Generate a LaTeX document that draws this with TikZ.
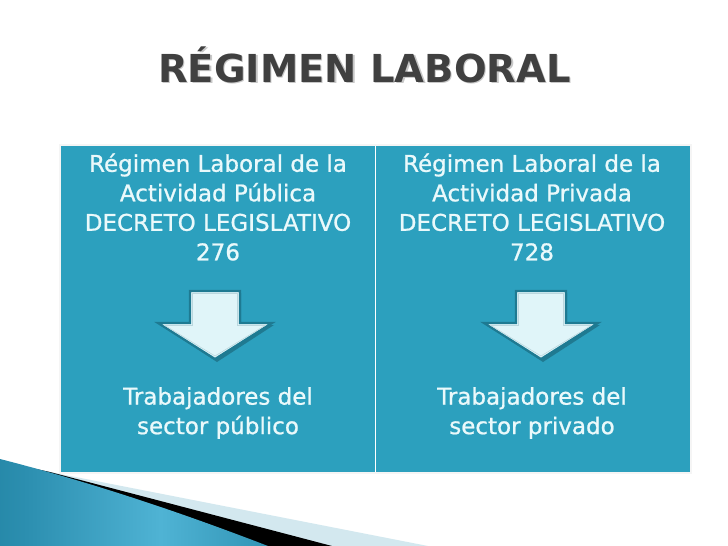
\documentclass[tikz,border=0pt]{standalone}
\usepackage{fontspec}
\setmainfont{DejaVu Sans}
\newfontfamily\cellfont{DejaVu Sans}[BoldFont={DejaVu Sans}, BoldFeatures={FakeBold=0.9}]
\usetikzlibrary{shadings}
\definecolor{cellblue}{HTML}{2CA0BE}
\definecolor{celltext}{HTML}{EAF9FB}
\definecolor{arrowfill}{HTML}{E0F5F9}
\definecolor{arrowedge}{HTML}{1E7A92}
\definecolor{titlegray}{HTML}{404040}
\definecolor{swooshlight}{HTML}{D3E8EF}
\definecolor{swA}{HTML}{0E6E8A}
\definecolor{swB}{HTML}{2C8FB0}
\definecolor{swC}{HTML}{4FB3D4}
\definecolor{swD}{HTML}{2A8DAE}
\definecolor{swE}{HTML}{0F6A86}
\pgfdeclarehorizontalshading{swoosh}{100bp}{
  color(0bp)=(swA); color(30bp)=(swB); color(55bp)=(swC);
  color(80bp)=(swD); color(100bp)=(swE)}
\tikzset{
  celltxt/.style={text=celltext, align=center, font=\cellfont\bfseries\fontsize{23}{29.5}\selectfont},
  dnarrow/.style={fill=arrowfill, draw=arrowedge, line width=2.2pt, line join=miter},
}
\begin{document}
\begin{tikzpicture}[x=1pt,y=-1pt]
\useasboundingbox (0,0) rectangle (728,546);
\fill[white] (0,0) rectangle (728,546);
% title
\node[text=black!22, font=\fontsize{38.5}{40}\bfseries\selectfont, anchor=base] at (365.8,83.3) {RÉGIMEN LABORAL};
\node (title) [text=titlegray, font=\fontsize{38.5}{40}\bfseries\selectfont, anchor=base] at (364.5,82) {RÉGIMEN LABORAL};
% table
\fill[black!4] (59,144) rectangle (692,474);
\node (leftcell) [fill=cellblue, minimum width=314pt, minimum height=326pt, inner sep=0pt, anchor=north west] at (61,146) {};
\node (rightcell) [fill=cellblue, minimum width=315pt, minimum height=326pt, inner sep=0pt, anchor=north west] at (375,146) {};
\draw[white, line width=1pt] (leftcell.north east) -- (leftcell.south east);
\node (lt) [celltxt] at (218,207) {Régimen Laboral de la\\Actividad Pública\\DECRETO LEGISLATIVO\\276};
\node (rt) [celltxt] at (532,207) {Régimen Laboral de la\\Actividad Privada\\DECRETO LEGISLATIVO\\728};
\node (lb) [celltxt] at (218,413) {Trabajadores del\\sector público};
\node (rb) [celltxt] at (532,413) {Trabajadores del\\sector privado};
% arrows
\begin{scope}[shift={(215,0)}]
\fill[arrowedge!70!black, opacity=.5] (-24,293) -- (26,293) -- (26,325) -- (59,325) -- (2,362) -- (-55,325) -- (-24,325) -- cycle;
\draw[dnarrow] (-25,291) -- (25,291) -- (25,323) -- (57,323) -- (0,359) -- (-57,323) -- (-25,323) -- cycle;
\draw[white!70!arrowedge, line width=.6pt] (-22.5,293.5) -- (22.5,293.5) -- (22.5,325.5) -- (50,325.5) -- (0,356) -- (-50,325.5) -- (-22.5,325.5) -- cycle;
\end{scope}
\begin{scope}[shift={(541,0)}]
\fill[arrowedge!70!black, opacity=.5] (-24,293) -- (26,293) -- (26,325) -- (59,325) -- (2,362) -- (-55,325) -- (-24,325) -- cycle;
\draw[dnarrow] (-25,291) -- (25,291) -- (25,323) -- (57,323) -- (0,359) -- (-57,323) -- (-25,323) -- cycle;
\draw[white!70!arrowedge, line width=.6pt] (-22.5,293.5) -- (22.5,293.5) -- (22.5,325.5) -- (50,325.5) -- (0,356) -- (-50,325.5) -- (-22.5,325.5) -- cycle;
\end{scope}
% swoosh
\fill[swooshlight] (0,462) -- (50,472) -- (428,546) -- (0,546) -- cycle;
\fill[black] (0,461) -- (50,472) -- (332,546) -- (0,546) -- cycle;
\shade[shading=swoosh] (0,459) .. controls (90,482) and (180,512) .. (268,546) -- (0,546) -- cycle;
\end{tikzpicture}
\end{document}
